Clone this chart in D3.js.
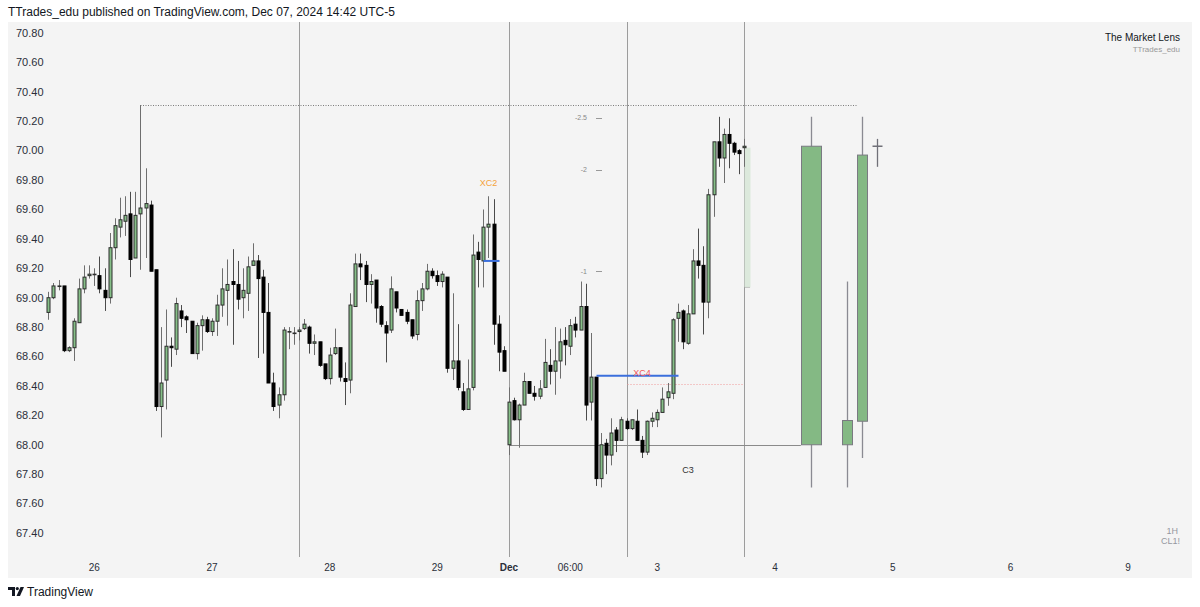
<!DOCTYPE html>
<html><head><meta charset="utf-8">
<script src="https://cdn.jsdelivr.net/npm/d3@7"></script>
<style>
body{margin:0;background:#fff;}
svg{display:block;font-family:"Liberation Sans",Arial,sans-serif;}
</style></head><body>
<svg id="c" width="1200" height="607"></svg>
<script>
// ---- hourly candles (CL1!, 1H) ----
const opens = [68.90,69.00,69.08,69.08,68.64,68.66,68.83,69.06,69.15,69.16,69.15,69.05,69.00,69.34,69.48,69.52,69.57,69.27,69.57,69.61,
69.63,69.19,68.26,68.44,68.67,68.65,68.91,68.87,68.84,68.62,68.81,68.85,68.77,68.84,68.95,69.05,69.11,69.09,69.00,69.03,
69.22,69.25,69.14,68.90,68.42,68.27,68.34,68.77,68.76,68.77,68.79,68.80,68.69,68.70,68.55,68.45,68.62,68.66,68.45,68.44,
68.94,69.23,69.22,69.09,69.12,68.94,68.81,68.78,69.04,68.92,68.90,68.85,68.75,68.98,69.06,69.18,69.15,69.11,69.14,68.52,
68.57,68.36,68.24,68.39,69.31,69.25,69.48,69.50,68.82,68.64,68.00,68.30,68.17,68.27,68.43,68.35,68.33,68.39,68.54,68.50,
68.57,68.71,68.67,68.82,68.78,68.94,68.29,68.46,67.77,68.01,67.93,68.10,68.03,68.16,68.11,68.16,68.03,67.95,68.16,68.17,
68.22,68.32,68.35,68.86,68.91,68.69,68.89,69.25,69.22,68.97,69.70,70.06,69.95,70.11,70.05,70.00,70.02];
const highs = [69.04,69.10,69.12,69.08,68.67,68.86,69.13,69.22,69.22,69.20,69.28,69.20,69.44,69.54,69.68,69.69,69.72,69.72,70.31,69.88,
69.66,69.19,68.80,68.92,68.73,69.00,68.95,68.88,68.84,68.83,68.88,68.87,68.86,69.02,69.20,69.26,69.33,69.25,69.20,69.28,
69.37,69.29,69.19,69.10,68.49,68.39,68.80,68.80,68.80,68.80,68.855,68.81,68.75,68.70,68.55,68.66,68.79,68.66,68.56,69.03,
69.30,69.30,69.25,69.16,69.12,68.95,68.84,69.145,69.04,68.92,68.92,68.85,69.05,69.10,69.23,69.20,69.185,69.18,69.14,69.03,
68.82,68.42,68.58,69.43,69.38,69.60,69.69,69.67,68.88,68.67,68.39,68.32,68.28,68.49,68.43,68.40,68.44,68.72,68.65,68.80,
68.79,68.80,68.855,68.87,69.11,69.095,68.76,68.46,68.08,68.04,68.18,68.12,68.19,68.18,68.17,68.24,68.06,68.165,68.22,68.24,
68.39,68.42,68.86,68.96,68.92,68.95,69.33,69.47,69.35,69.74,70.06,70.23,70.15,70.22,70.06,70.01,70.08];
const lows = [68.85,68.99,69.05,68.63,68.63,68.57,68.83,69.03,69.13,69.08,69.03,68.91,68.96,69.26,69.41,69.42,69.14,69.27,69.19,69.27,
69.18,68.23,68.05,68.24,68.53,68.61,68.80,68.76,68.62,68.58,68.64,68.76,68.74,68.74,68.87,68.81,68.68,68.92,68.86,68.91,
69.22,68.59,68.62,68.42,68.23,68.18,68.30,68.65,68.68,68.71,68.78,68.62,68.61,68.53,68.44,68.41,68.61,68.43,68.27,68.35,
68.94,69.12,68.97,68.96,68.83,68.80,68.56,68.76,68.90,68.88,68.82,68.72,68.71,68.91,69.05,69.13,69.08,69.07,68.49,68.44,
68.37,68.23,68.24,68.37,69.07,69.07,69.27,68.68,68.50,68.50,67.93,68.165,67.98,68.27,68.35,68.30,68.31,68.39,68.41,68.34,
68.45,68.54,68.61,68.73,68.78,68.165,68.165,67.72,67.71,67.80,67.86,67.95,68.03,68.10,68.10,68.03,67.91,67.93,68.12,68.12,
68.22,68.265,68.31,68.70,68.65,68.68,68.89,69.13,68.75,68.86,69.55,69.89,69.78,69.88,69.97,69.84,69.89];
const closes = [69.00,69.08,69.08,68.64,68.66,68.84,69.06,69.14,69.16,69.16,69.06,69.00,69.34,69.49,69.53,69.56,69.26,69.56,69.61,69.64,
69.18,68.26,68.42,68.67,68.66,68.96,68.86,68.85,68.62,68.81,68.85,68.77,68.84,68.95,69.06,69.09,69.09,68.99,69.05,69.21,
69.25,69.13,68.90,68.42,68.26,68.34,68.78,68.77,68.76,68.78,68.82,68.69,68.70,68.54,68.45,68.61,68.66,68.46,68.43,68.95,
69.23,69.21,69.09,69.11,68.93,68.82,68.76,69.06,68.93,68.88,68.84,68.74,68.98,69.06,69.18,69.15,69.11,69.16,68.52,68.57,
68.39,68.24,68.38,69.29,69.26,69.48,69.50,68.82,68.63,68.50,68.29,68.17,68.27,68.43,68.35,68.33,68.38,68.56,68.50,68.57,
68.70,68.68,68.81,68.78,68.94,68.27,68.46,67.77,68.00,67.93,68.08,68.03,68.17,68.11,68.17,68.03,67.95,68.16,68.18,68.22,
68.31,68.36,68.85,68.90,68.70,68.89,69.25,69.22,68.97,69.70,70.06,69.95,70.11,70.05,69.99,69.98,70.03];

// ---- higher-timeframe candles drawn by the indicator ----
const htfIndex = [149, 156, 159, 162];
const htfKind  = ["W", "D", "D", "D"];
const htfOpen  = [68.00, 68.00, 68.16, 70.03];
const htfHigh  = [70.23, 69.11, 70.23, 70.08];
const htfLow   = [67.71, 67.71, 67.91, 69.89];
const htfClose = [70.03, 68.165, 69.97, 70.03];

// ---- axes ----
const yTicks = [67.4,67.6,67.8,68.0,68.2,68.4,68.6,68.8,69.0,69.2,69.4,69.6,69.8,70.0,70.2,70.4,70.6,70.8];
const xTickLabels = ["26","27","28","29","Dec","06:00","3","4","5","6","9"];
const xTickIndex  = [9, 32, 55, 76, 90, 102, 119, 142, 165, 188, 211];

// ---- annotations ----
const sessionLineIndex = [49, 90, 113, 136];
const fibLabels = ["-2.5", "-2", "-1"];
const fibValues = [70.224, 69.87, 69.18];
const highLevel = {from: 18, to: 158, value: 70.31};
const openLevel = {from: 90, to: 149, value: 68.00};
const xc2Level = {from: 85, to: 88, value: 69.25};
const xc4Level = {from: 107, to: 123, value: 68.47};
const xc4Dotted = {from: 113, to: 136, value: 68.41};
const projBox = {index: 136, top: 70.02, bottom: 69.07};
const labels = [
  {text: "XC2", index: 86, value: 69.78, color: "#f5a33b"},
  {text: "XC4", index: 116, value: 68.49, color: "#f0585c"},
  {text: "C3",  index: 125, value: 67.83, color: "#333"}
];

const svg = d3.select("#c");
const x = d3.scaleLinear().domain([0, 136]).range([48.3, 744.3]);
const y = d3.scaleLinear().domain([67.4, 70.8]).range([533, 33]);
const px = i => Math.round(x(i)) + 0.5;

// panel background
svg.append("rect").attr("x", 8).attr("y", 22).attr("width", 1184).attr("height", 556).attr("fill", "#f4f4f4");

// header
svg.append("text").attr("x", 8).attr("y", 16).attr("font-size", 12).attr("fill", "#131722")
  .text("TTrades_edu published on TradingView.com, Dec 07, 2024 14:42 UTC-5");

// y axis labels
svg.append("g").selectAll("text").data(yTicks).join("text")
  .attr("x", 16).attr("y", d => y(d)).attr("dy", "0.35em")
  .attr("font-size", 11).attr("fill", "#2a2e39")
  .text(d => d.toFixed(2));

// x axis labels
svg.append("g").selectAll("text").data(xTickLabels).join("text")
  .attr("x", (d, i) => x(xTickIndex[i])).attr("y", 570.5)
  .attr("text-anchor", "middle").attr("font-size", 10).attr("fill", "#2a2e39")
  .attr("font-weight", d => d === "Dec" ? "bold" : "normal")
  .text(d => d);

// session vertical lines
svg.append("g").selectAll("line").data(sessionLineIndex).join("line")
  .attr("x1", d => px(d)).attr("x2", d => px(d)).attr("y1", 22).attr("y2", 557)
  .attr("stroke", "#9c9c9c").attr("stroke-width", 1);

// dotted high level
svg.append("line").attr("x1", px(highLevel.from)).attr("x2", x(highLevel.to))
  .attr("y1", Math.round(y(highLevel.value)) + 0.5).attr("y2", Math.round(y(highLevel.value)) + 0.5)
  .attr("stroke", "#7c7c7c").attr("stroke-dasharray", "1,1.5");

// open level
svg.append("line").attr("x1", px(openLevel.from)).attr("x2", x(openLevel.to) - 10)
  .attr("y1", Math.round(y(openLevel.value)) + 0.5).attr("y2", Math.round(y(openLevel.value)) + 0.5)
  .attr("stroke", "#8a8a8a");

// projection box
svg.append("rect").attr("x", px(projBox.index)).attr("width", 6)
  .attr("y", y(projBox.top)).attr("height", y(projBox.bottom) - y(projBox.top))
  .attr("fill", "#dce9dc");
svg.append("line").attr("x1", px(projBox.index)).attr("x2", px(projBox.index) + 6)
  .attr("y1", y(projBox.bottom)).attr("y2", y(projBox.bottom))
  .attr("stroke", "#999").attr("stroke-dasharray", "1,1");

// fib labels
const fib = svg.append("g");
fib.selectAll("text").data(fibLabels).join("text")
  .attr("x", 587).attr("y", (d, i) => y(fibValues[i])).attr("dy", "0.35em")
  .attr("text-anchor", "end").attr("font-size", 7).attr("fill", "#888").text(d => d);
fib.selectAll("line").data(fibValues).join("line")
  .attr("x1", 596).attr("x2", 602).attr("y1", d => Math.round(y(d)) + 0.5).attr("y2", d => Math.round(y(d)) + 0.5)
  .attr("stroke", "#999");

// red dotted
svg.append("line").attr("x1", px(xc4Dotted.from)).attr("x2", px(xc4Dotted.to))
  .attr("y1", Math.round(y(xc4Dotted.value)) + 0.5).attr("y2", Math.round(y(xc4Dotted.value)) + 0.5)
  .attr("stroke", "#f19a9a").attr("stroke-dasharray", "1,2");

// candles
const candles = d3.range(opens.length).map(i => ({i, o: opens[i], h: highs[i], l: lows[i], c: closes[i]}));
const cg = svg.append("g");
cg.selectAll("line").data(candles).join("line")
  .attr("x1", d => px(d.i)).attr("x2", d => px(d.i))
  .attr("y1", d => y(d.h)).attr("y2", d => y(d.l))
  .attr("stroke", d => d.c >= d.o ? "#6e6e6e" : "#4a4a4a").attr("stroke-width", 1);
cg.selectAll("rect").data(candles).join("rect")
  .attr("x", d => px(d.i) - 1.5).attr("width", 3)
  .attr("y", d => y(Math.max(d.o, d.c)))
  .attr("height", d => Math.max(0.6, Math.abs(y(d.o) - y(d.c))))
  .attr("fill", d => d.c >= d.o ? "#86bf88" : "#000")
  .attr("stroke", d => d.c >= d.o ? "#2d2d2d" : "#000").attr("stroke-width", 1);

// blue levels
[xc2Level, xc4Level].forEach(L => {
  svg.append("line").attr("x1", px(L.from)).attr("x2", px(L.to))
    .attr("y1", y(L.value)).attr("y2", y(L.value))
    .attr("stroke", "#3b6fdc").attr("stroke-width", 2);
});

// labels
svg.append("g").selectAll("text").data(labels).join("text")
  .attr("x", d => x(d.index)).attr("y", d => y(d.value)).attr("dy", "0.35em")
  .attr("text-anchor", "middle").attr("font-size", 9).attr("fill", d => d.color).text(d => d.text);

// HTF candles
const htf = d3.range(htfIndex.length).map(k => ({i: htfIndex[k], kind: htfKind[k], o: htfOpen[k], h: htfHigh[k], l: htfLow[k], c: htfClose[k], cross: k === htfIndex.length - 1}));
const hg = svg.append("g");
htf.forEach(d => {
  const w = d.kind === "W" ? 20 : 10;
  const cx = Math.round(x(d.i)) + 0.5;
  if (d.cross) {
    hg.append("line").attr("x1", cx).attr("x2", cx).attr("y1", y(d.h)).attr("y2", y(d.l)).attr("stroke", "#707078").attr("stroke-width", 1.3);
    hg.append("line").attr("x1", cx - w / 2).attr("x2", cx + w / 2).attr("y1", y(d.c)).attr("y2", y(d.c)).attr("stroke", "#707078").attr("stroke-width", 1.5);
    return;
  }
  hg.append("line").attr("x1", cx).attr("x2", cx).attr("y1", y(d.h)).attr("y2", y(d.l)).attr("stroke", "#8a8a92").attr("stroke-width", 1.3);
  hg.append("rect").attr("x", cx - w / 2).attr("width", w)
    .attr("y", y(Math.max(d.o, d.c))).attr("height", Math.abs(y(d.o) - y(d.c)))
    .attr("fill", "#84b984").attr("stroke", "#7a7a82").attr("stroke-width", 1);
});

// right-side texts
svg.append("text").attr("x", 1180).attr("y", 41).attr("text-anchor", "end").attr("font-size", 10).attr("fill", "#131722").text("The Market Lens");
svg.append("text").attr("x", 1180).attr("y", 52).attr("text-anchor", "end").attr("font-size", 8).attr("fill", "#999").text("TTrades_edu");
svg.append("text").attr("x", 1178).attr("y", 534).attr("text-anchor", "end").attr("font-size", 9).attr("fill", "#9598a1").text("1H");
svg.append("text").attr("x", 1180).attr("y", 544).attr("text-anchor", "end").attr("font-size", 9).attr("fill", "#9598a1").text("CL1!");

// footer logo
const logo = svg.append("g").attr("transform", "translate(8,587)");
logo.append("path").attr("d", "M0,0 H7 V9 H4 V3 H0 Z").attr("fill", "#131722");
logo.append("circle").attr("cx", 9.3).attr("cy", 1.6).attr("r", 1.6).attr("fill", "#131722");
logo.append("path").attr("d", "M12.5,0 H16 L12,9 H8.5 Z").attr("fill", "#131722");
svg.append("text").attr("x", 27).attr("y", 596).attr("font-size", 12).attr("fill", "#131722").text("TradingView");
</script>
</body></html>
